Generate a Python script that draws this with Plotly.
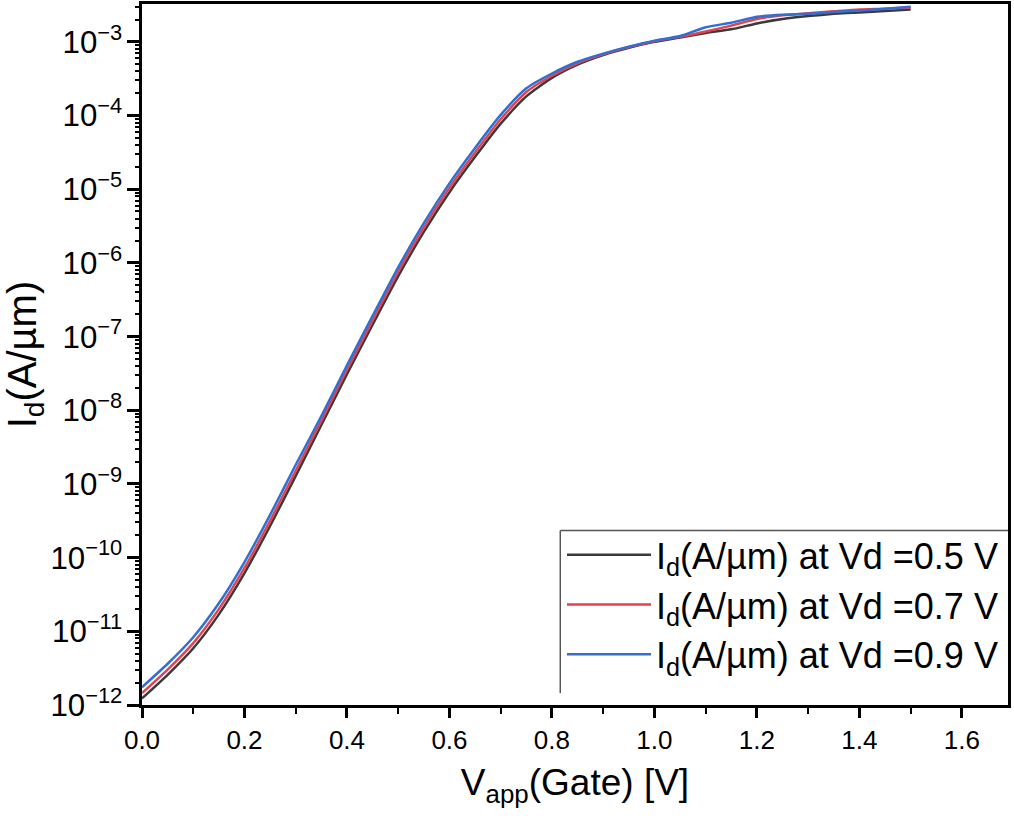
import plotly.graph_objects as go

vgate = [0.00, 0.05, 0.10, 0.15, 0.20, 0.25, 0.30, 0.35, 0.40, 0.45,
         0.50, 0.55, 0.60, 0.65, 0.70, 0.75, 0.80, 0.85, 0.90, 0.95,
         1.00, 1.05, 1.10, 1.15, 1.20, 1.25, 1.30, 1.35, 1.40, 1.45, 1.50]

id_vd05 = [1.23e-12, 2.57e-12, 5.89e-12, 1.70e-11, 6.17e-11, 2.69e-10, 1.29e-9, 6.31e-9,
           3.09e-8, 1.45e-7, 6.61e-7, 2.63e-6, 9.12e-6, 2.75e-5, 7.76e-5, 1.82e-4,
           3.24e-4, 4.90e-4, 6.61e-4, 8.32e-4, 1.00e-3, 1.15e-3, 1.32e-3, 1.48e-3,
           1.78e-3, 2.04e-3, 2.24e-3, 2.40e-3, 2.51e-3, 2.63e-3, 2.75e-3]

id_vd07 = [1.45e-12, 3.02e-12, 6.92e-12, 2.00e-11, 7.24e-11, 3.16e-10, 1.51e-9, 7.24e-9,
           3.55e-8, 1.66e-7, 7.59e-7, 3.02e-6, 1.05e-5, 3.16e-5, 8.91e-5, 2.09e-4,
           3.47e-4, 5.13e-4, 6.76e-4, 8.51e-4, 1.02e-3, 1.17e-3, 1.38e-3, 1.66e-3,
           2.04e-3, 2.29e-3, 2.45e-3, 2.60e-3, 2.75e-3, 2.82e-3, 2.92e-3]

id_vd09 = [1.74e-12, 3.63e-12, 8.32e-12, 2.40e-11, 8.71e-11, 3.80e-10, 1.82e-9, 8.32e-9,
           4.07e-8, 1.91e-7, 8.71e-7, 3.47e-6, 1.20e-5, 3.63e-5, 1.02e-4, 2.34e-4,
           3.72e-4, 5.37e-4, 6.92e-4, 8.61e-4, 1.04e-3, 1.20e-3, 1.58e-3, 1.82e-3,
           2.19e-3, 2.34e-3, 2.40e-3, 2.54e-3, 2.66e-3, 2.82e-3, 2.99e-3]

series_names = ["I<sub>d</sub>(A/µm) at Vd =0.5 V",
                "I<sub>d</sub>(A/µm) at Vd =0.7 V",
                "I<sub>d</sub>(A/µm) at Vd =0.9 V"]
series_colors = ["#3a3a3a", "#e5424b", "#2f6fd6"]

FONT = "Liberation Sans, Arial, sans-serif"
Y_RANGE = [-12, -2.486]

fig = go.Figure()
for vals, name, col in zip([id_vd05, id_vd07, id_vd09], series_names, series_colors):
    fig.add_trace(go.Scatter(x=vgate, y=vals, mode="lines", name=name,
                             line=dict(color=col, width=2.5, shape="spline", smoothing=0.6)))

# minor log ticks (2..9 x 10^n) on an overlaid axis without labels
minor_vals = [m * 10.0 ** n for n in range(-12, -2) for m in range(2, 10)]
minor_vals = [v for v in minor_vals if v < 10 ** Y_RANGE[1]]
fig.add_trace(go.Scatter(x=[None], y=[None], yaxis="y2", showlegend=False, hoverinfo="skip"))

fig.update_layout(
    width=1014, height=823,
    margin=dict(l=142, r=6, t=1, b=118),
    paper_bgcolor="white", plot_bgcolor="white",
    font=dict(family=FONT, color="black"),
    showlegend=True,
    legend=dict(x=0.485, y=0.257, xanchor="left", yanchor="top",
                bgcolor="rgba(255,255,255,0)", borderwidth=0,
                font=dict(size=36, family=FONT, color="black"),
                itemwidth=84, tracegroupgap=0),
    yaxis2=dict(type="log", range=Y_RANGE, overlaying="y", side="left",
                tickvals=minor_vals, showticklabels=False, ticks="outside",
                ticklen=6, tickwidth=1.5, tickcolor="black",
                showgrid=False, zeroline=False, showline=False),
)

fig.update_xaxes(
    range=[0, 1.69], dtick=0.2, tick0=0, tickformat=".1f",
    showgrid=False, zeroline=False,
    showline=True, linecolor="black", linewidth=2.5, mirror=True,
    ticks="outside", ticklen=10, tickwidth=2.5, tickcolor="black",
    minor=dict(dtick=0.1, ticks="outside", ticklen=6, tickwidth=2, tickcolor="black"),
    tickfont=dict(size=26, family=FONT, color="black"),
    title=dict(text="V<sub>app</sub>(Gate) [V]", font=dict(size=37, family=FONT), standoff=16),
)

fig.update_layout(yaxis=dict(
    type="log", range=Y_RANGE, dtick=1, exponentformat="power",
    showgrid=False, zeroline=False,
    showline=True, linecolor="black", linewidth=2.5, mirror=True,
    ticks="outside", ticklen=12, tickwidth=2.5, tickcolor="black",
    tickfont=dict(size=25, family=FONT, color="black"),
    title=dict(text="I<sub>d</sub>(A/µm)", font=dict(size=40, family=FONT), standoff=12),
))

# legend frame (top and left edges only, as in the reference)
fig.add_shape(type="line", xref="paper", yref="paper", x0=0.483, x1=1.0, y0=0.249, y1=0.249,
              line=dict(color="#555555", width=1.5))
fig.add_shape(type="line", xref="paper", yref="paper", x0=0.483, x1=0.483, y0=0.017, y1=0.249,
              line=dict(color="#555555", width=1.5))

fig.write_html("out.html")
